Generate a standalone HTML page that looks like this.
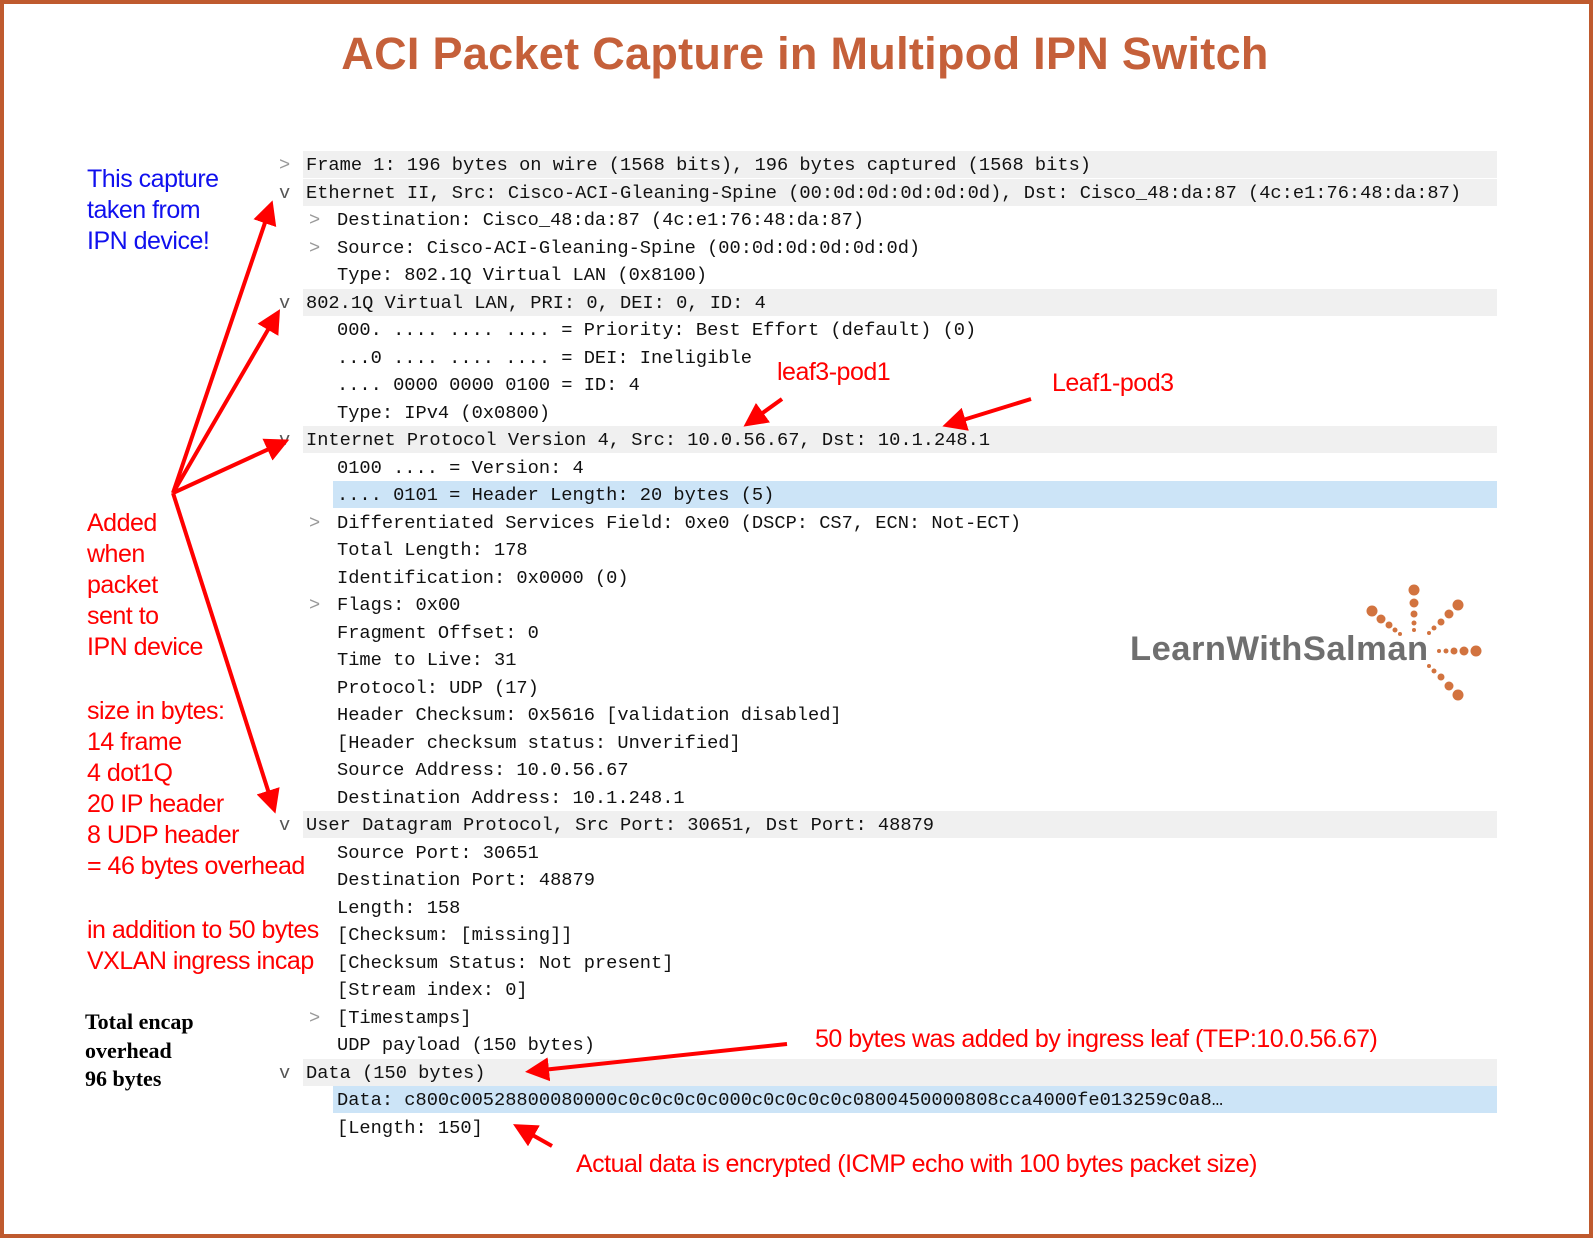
<!DOCTYPE html>
<html><head><meta charset="utf-8"><style>
*{margin:0;padding:0}
body{width:1593px;height:1238px;position:relative;background:#fff;overflow:hidden}
#frame{position:absolute;left:0;top:0;width:1585px;height:1230px;border:4px solid #bf5a2e}
.t{position:absolute;white-space:pre;font-family:"Liberation Sans",Arial,sans-serif}
.r{position:absolute;left:303px;width:1194px;height:27px;font-family:"Liberation Mono",monospace;font-size:18.7px;line-height:29px;color:#111;white-space:pre}
.g{background:#f0f0f0}
.b{background:#cce4f7}
.r span{position:absolute;top:0}
.an{font-size:25px;line-height:31px;color:#f00;letter-spacing:-0.5px}
</style></head><body>
<div id="frame"></div>
<div class="t" style="left:0;width:1610px;top:28px;text-align:center;font-size:45px;font-weight:bold;color:#c5603a;letter-spacing:0.3px">ACI Packet Capture in Multipod IPN Switch</div>

<div class="r g" style="top:151px"><span style="left:-24px;color:#999">&gt;</span><span style="left:3px">Frame 1: 196 bytes on wire (1568 bits), 196 bytes captured (1568 bits)</span></div>
<div class="r g" style="top:179px"><span style="left:-24px;color:#555">v</span><span style="left:3px">Ethernet II, Src: Cisco-ACI-Gleaning-Spine (00:0d:0d:0d:0d:0d), Dst: Cisco_48:da:87 (4c:e1:76:48:da:87)</span></div>
<div class="r" style="top:206px"><span style="left:6px;color:#999">&gt;</span><span style="left:34px">Destination: Cisco_48:da:87 (4c:e1:76:48:da:87)</span></div>
<div class="r" style="top:234px"><span style="left:6px;color:#999">&gt;</span><span style="left:34px">Source: Cisco-ACI-Gleaning-Spine (00:0d:0d:0d:0d:0d)</span></div>
<div class="r" style="top:261px"><span style="left:34px">Type: 802.1Q Virtual LAN (0x8100)</span></div>
<div class="r g" style="top:289px"><span style="left:-24px;color:#555">v</span><span style="left:3px">802.1Q Virtual LAN, PRI: 0, DEI: 0, ID: 4</span></div>
<div class="r" style="top:316px"><span style="left:34px">000. .... .... .... = Priority: Best Effort (default) (0)</span></div>
<div class="r" style="top:344px"><span style="left:34px">...0 .... .... .... = DEI: Ineligible</span></div>
<div class="r" style="top:371px"><span style="left:34px">.... 0000 0000 0100 = ID: 4</span></div>
<div class="r" style="top:399px"><span style="left:34px">Type: IPv4 (0x0800)</span></div>
<div class="r g" style="top:426px"><span style="left:-24px;color:#555">v</span><span style="left:3px">Internet Protocol Version 4, Src: 10.0.56.67, Dst: 10.1.248.1</span></div>
<div class="r" style="top:454px"><span style="left:34px">0100 .... = Version: 4</span></div>
<div class="r b" style="top:481px;left:333px;width:1164px"><span style="left:4px">.... 0101 = Header Length: 20 bytes (5)</span></div>
<div class="r" style="top:509px"><span style="left:6px;color:#999">&gt;</span><span style="left:34px">Differentiated Services Field: 0xe0 (DSCP: CS7, ECN: Not-ECT)</span></div>
<div class="r" style="top:536px"><span style="left:34px">Total Length: 178</span></div>
<div class="r" style="top:564px"><span style="left:34px">Identification: 0x0000 (0)</span></div>
<div class="r" style="top:591px"><span style="left:6px;color:#999">&gt;</span><span style="left:34px">Flags: 0x00</span></div>
<div class="r" style="top:619px"><span style="left:34px">Fragment Offset: 0</span></div>
<div class="r" style="top:646px"><span style="left:34px">Time to Live: 31</span></div>
<div class="r" style="top:674px"><span style="left:34px">Protocol: UDP (17)</span></div>
<div class="r" style="top:701px"><span style="left:34px">Header Checksum: 0x5616 [validation disabled]</span></div>
<div class="r" style="top:729px"><span style="left:34px">[Header checksum status: Unverified]</span></div>
<div class="r" style="top:756px"><span style="left:34px">Source Address: 10.0.56.67</span></div>
<div class="r" style="top:784px"><span style="left:34px">Destination Address: 10.1.248.1</span></div>
<div class="r g" style="top:811px"><span style="left:-24px;color:#555">v</span><span style="left:3px">User Datagram Protocol, Src Port: 30651, Dst Port: 48879</span></div>
<div class="r" style="top:839px"><span style="left:34px">Source Port: 30651</span></div>
<div class="r" style="top:866px"><span style="left:34px">Destination Port: 48879</span></div>
<div class="r" style="top:894px"><span style="left:34px">Length: 158</span></div>
<div class="r" style="top:921px"><span style="left:34px">[Checksum: [missing]]</span></div>
<div class="r" style="top:949px"><span style="left:34px">[Checksum Status: Not present]</span></div>
<div class="r" style="top:976px"><span style="left:34px">[Stream index: 0]</span></div>
<div class="r" style="top:1004px"><span style="left:6px;color:#999">&gt;</span><span style="left:34px">[Timestamps]</span></div>
<div class="r" style="top:1031px"><span style="left:34px">UDP payload (150 bytes)</span></div>
<div class="r g" style="top:1059px"><span style="left:-24px;color:#555">v</span><span style="left:3px">Data (150 bytes)</span></div>
<div class="r b" style="top:1086px;left:333px;width:1164px"><span style="left:4px">Data: c800c00528800080000c0c0c0c0c000c0c0c0c0c0800450000808cca4000fe013259c0a8…</span></div>
<div class="r" style="top:1114px"><span style="left:34px">[Length: 150]</span></div>

<div class="t an" style="left:87px;top:164px;color:#1010ee">This capture
taken from
IPN device!</div>
<div class="t an" style="left:87px;top:508px">Added
when
packet
sent to
IPN device</div>
<div class="t an" style="left:87px;top:696px">size in bytes:
14 frame
4 dot1Q
20 IP header
8 UDP header
= 46 bytes overhead</div>
<div class="t an" style="left:87px;top:915px">in addition to 50 bytes
VXLAN ingress incap</div>
<div class="t" style="left:85px;top:1008px;font-family:'Liberation Serif',serif;font-weight:bold;font-size:22px;line-height:28.5px;color:#000">Total encap
overhead
96 bytes</div>
<div class="t an" style="left:777px;top:357px">leaf3-pod1</div>
<div class="t an" style="left:1052px;top:368px">Leaf1-pod3</div>
<div class="t an" style="left:815px;top:1024px">50 bytes was added by ingress leaf (TEP:10.0.56.67)</div>
<div class="t an" style="left:576px;top:1149px">Actual data is encrypted (ICMP echo with 100 bytes packet size)</div>

<div class="t" style="left:1130px;top:630px;font-size:34.5px;font-weight:bold;color:#6f6f6f;letter-spacing:0.5px">LearnWithSalman</div>

<svg width="1593" height="1238" style="position:absolute;left:0;top:0">
<defs><marker id="a" markerWidth="6" markerHeight="6" refX="4" refY="3" orient="auto" markerUnits="strokeWidth"><path d="M0,0 L6,3 L0,6 z" fill="#f00"/></marker></defs>
<g stroke="#f00" stroke-width="4" fill="none" marker-end="url(#a)">
<line x1="173" y1="493" x2="270" y2="208"/>
<line x1="173" y1="493" x2="276" y2="316"/>
<line x1="173" y1="493" x2="282" y2="443"/>
<line x1="173" y1="493" x2="273" y2="806"/>
<line x1="782" y1="399" x2="750" y2="422"/>
<line x1="1031" y1="399" x2="950" y2="424"/>
<line x1="787" y1="1044" x2="533" y2="1071"/>
<line x1="552" y1="1146" x2="520" y2="1128"/>
</g>
<g fill="#d2733f">
<circle cx="1414" cy="590" r="5.5"/><circle cx="1414" cy="603" r="4.5"/><circle cx="1414" cy="614" r="3.5"/><circle cx="1414" cy="623" r="2.5"/><circle cx="1414" cy="630" r="2"/>
<circle cx="1372" cy="611" r="5.5"/><circle cx="1381" cy="619" r="4.5"/><circle cx="1389" cy="625" r="3.5"/><circle cx="1395" cy="630" r="2.5"/><circle cx="1400" cy="634" r="2"/>
<circle cx="1458" cy="605" r="5.5"/><circle cx="1449" cy="614" r="4.5"/><circle cx="1441" cy="622" r="3.5"/><circle cx="1434" cy="628" r="2.5"/><circle cx="1429" cy="633" r="2"/>
<circle cx="1476" cy="651" r="5.5"/><circle cx="1464" cy="651" r="4.5"/><circle cx="1454" cy="651" r="3.5"/><circle cx="1446" cy="651" r="2.5"/><circle cx="1439" cy="651" r="2"/>
<circle cx="1458" cy="695" r="5.5"/><circle cx="1449" cy="686" r="4.5"/><circle cx="1441" cy="677" r="3.5"/><circle cx="1434" cy="671" r="2.5"/><circle cx="1429" cy="666" r="2"/>
</g>
</svg>
</body></html>
